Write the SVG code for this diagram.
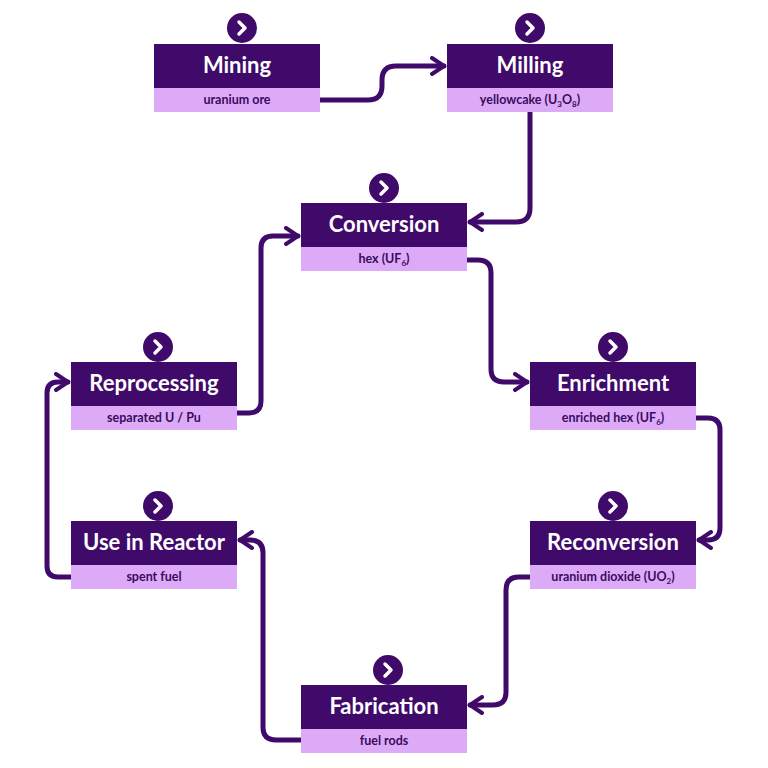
<svg xmlns="http://www.w3.org/2000/svg" width="768" height="768" viewBox="0 0 768 768">
<style>
.h{fill:#3f0a6a}.s{fill:#ddaaf8}
.t{font-family:Lato,"Liberation Sans",sans-serif;font-weight:bold;font-size:22px;fill:#fff;text-anchor:middle}
.u{font-family:Lato,"Liberation Sans",sans-serif;font-weight:bold;font-size:12.5px;fill:#3a0a5e;text-anchor:middle}
.c{fill:#3f0a6a}.ch{fill:none;stroke:#fff;stroke-width:3.5;stroke-linecap:round;stroke-linejoin:round}
.l{fill:none;stroke:#3f0a6a;stroke-width:5;stroke-linecap:round;stroke-linejoin:round}
</style>
<defs>
<marker id="a" viewBox="0 0 10 10" refX="8" refY="5" markerWidth="4" markerHeight="4" orient="auto" markerUnits="strokeWidth"><path d="M2,1 L8,5 L2,9" fill="none" stroke="#3f0a6a" stroke-width="2" stroke-linecap="round" stroke-linejoin="round"/></marker>
<g id="ic"><circle class="c" r="15"/><path class="ch" d="M-3,-6 L3,0 L-3,6"/></g>
</defs>
<rect width="768" height="768" fill="#fff"/>
<g id="connectors">
<path class="l" marker-end="url(#a)" d="M320,100 H368 Q382,100 382,86 V80 Q382,66 396,66 H444"/>
<path class="l" marker-end="url(#a)" d="M530,113 V208 Q530,222 516,222 H470"/>
<path class="l" marker-end="url(#a)" d="M467,260 H478 Q491,260 491,273 V369 Q491,382 504,382 H527"/>
<path class="l" marker-end="url(#a)" d="M696,418 H708 Q720,418 720,430 V528 Q720,540 708,540 H699"/>
<path class="l" marker-end="url(#a)" d="M530,577 H519 Q506,577 506,590 V692 Q506,705 493,705 H470"/>
<path class="l" marker-end="url(#a)" d="M301,740 H276 Q263,740 263,727 V553 Q263,540 250,540 H240"/>
<path class="l" marker-end="url(#a)" d="M71,577 H58 Q47,577 47,566 V393 Q47,382 58,382 H68"/>
<path class="l" marker-end="url(#a)" d="M237,413 H249 Q261,413 261,401 V248 Q261,236 273,236 H298"/>
</g>
<g id="mining"><rect class="h" x="154" y="44" width="166" height="44"/><rect class="s" x="154" y="88" width="166" height="24"/><use href="#ic" x="242" y="28"/><text class="t" x="237" y="73">Mining</text><text class="u" x="237" y="104">uranium ore</text></g>
<g id="milling"><rect class="h" x="447" y="44" width="166" height="44"/><rect class="s" x="447" y="88" width="166" height="24"/><use href="#ic" x="530" y="28"/><text class="t" x="530" y="73">Milling</text><text class="u" x="530" y="104">yellowcake (U<tspan font-size="8" dy="3">3</tspan><tspan dy="-3">O</tspan><tspan font-size="8" dy="3">8</tspan><tspan dy="-3">)</tspan></text></g>
<g id="conversion"><rect class="h" x="301" y="203" width="166" height="44"/><rect class="s" x="301" y="247" width="166" height="24"/><use href="#ic" x="384" y="188"/><text class="t" x="384" y="232">Conversion</text><text class="u" x="384" y="263">hex (UF<tspan font-size="8" dy="3">6</tspan><tspan dy="-3">)</tspan></text></g>
<g id="enrichment"><rect class="h" x="530" y="362" width="166" height="44"/><rect class="s" x="530" y="406" width="166" height="24"/><use href="#ic" x="613" y="347"/><text class="t" x="613" y="391">Enrichment</text><text class="u" x="613" y="422">enriched hex (UF<tspan font-size="8" dy="3">6</tspan><tspan dy="-3">)</tspan></text></g>
<g id="reprocessing"><rect class="h" x="71" y="362" width="166" height="44"/><rect class="s" x="71" y="406" width="166" height="24"/><use href="#ic" x="158" y="347"/><text class="t" x="154" y="391">Reprocessing</text><text class="u" x="154" y="422">separated U / Pu</text></g>
<g id="reactor"><rect class="h" x="71" y="521" width="166" height="44"/><rect class="s" x="71" y="565" width="166" height="24"/><use href="#ic" x="158" y="506"/><text class="t" x="154" y="550">Use in Reactor</text><text class="u" x="154" y="581">spent fuel</text></g>
<g id="reconversion"><rect class="h" x="530" y="521" width="166" height="44"/><rect class="s" x="530" y="565" width="166" height="24"/><use href="#ic" x="613" y="506"/><text class="t" x="613" y="550">Reconversion</text><text class="u" x="613" y="581">uranium dioxide (UO<tspan font-size="8" dy="3">2</tspan><tspan dy="-3">)</tspan></text></g>
<g id="fabrication"><rect class="h" x="301" y="685" width="166" height="44"/><rect class="s" x="301" y="729" width="166" height="24"/><use href="#ic" x="388" y="670"/><text class="t" x="384" y="714">Fabrication</text><text class="u" x="384" y="745">fuel rods</text></g>
</svg>
